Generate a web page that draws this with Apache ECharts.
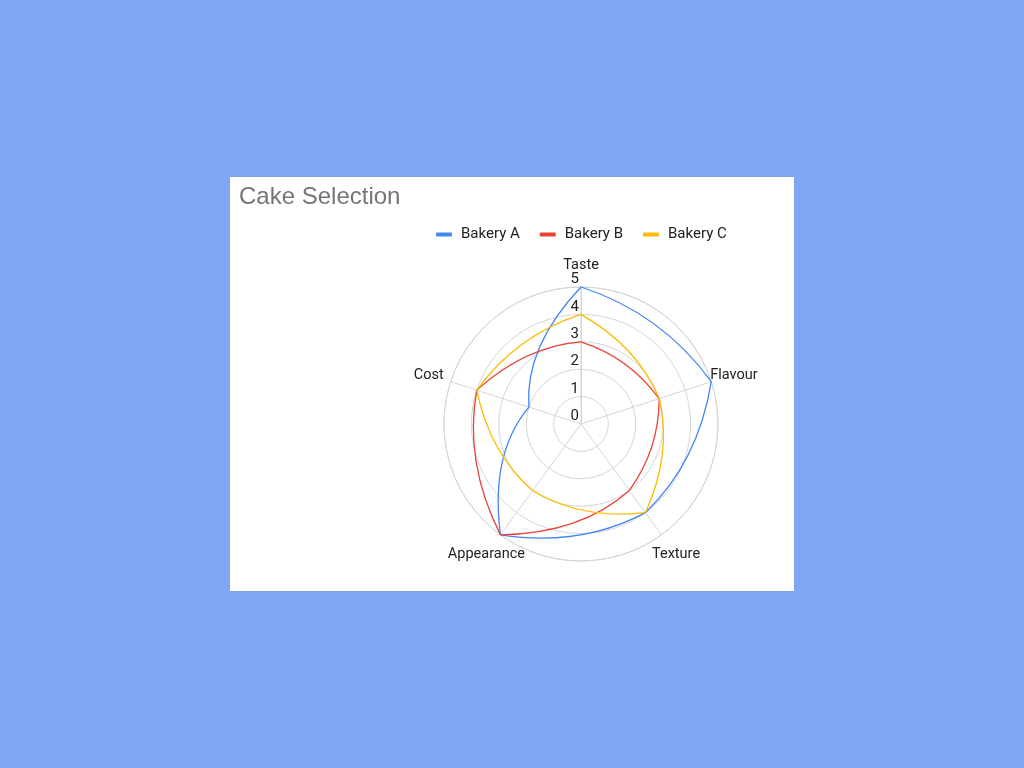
<!DOCTYPE html>
<html>
<head>
<meta charset="utf-8">
<script src="https://cdn.jsdelivr.net/npm/echarts@6/dist/echarts.min.js"></script>
<style>
html,body{margin:0;padding:0;width:1024px;height:768px;background:#7ea6f5;overflow:hidden}
#chart{position:absolute;left:230px;top:177px;width:564px;height:414px;background:#fff}
</style>
</head>
<body>
<div id="chart"></div>
<script>
var categories = ['Taste', 'Flavour', 'Texture', 'Appearance', 'Cost'];
var bakeryA = [5, 5, 4, 5, 2];
var bakeryB = [3, 3, 3, 5, 4];
var bakeryC = [4, 3, 4, 3, 4];
var seriesNames = ['Bakery A', 'Bakery B', 'Bakery C'];
var seriesValues = [bakeryA, bakeryB, bakeryC];
var seriesColors = ['#4285f4', '#ea4335', '#fbbc04'];

// one curve per pair of neighbour categories: quadratic bezier whose control
// point sits on the middle angle at the mean radius
function makeRender(values) {
    return function (params, api) {
        var i = params.dataIndex;
        var r0 = values[i], r1 = values[(i + 1) % values.length];
        var p0 = api.coord([r0, i]);
        var p1 = api.coord([r1, i + 1]);
        var c = api.coord([(r0 + r1) / 2, i + 0.5]);
        return {
            type: 'bezierCurve',
            shape: {x1: p0[0], y1: p0[1], x2: p1[0], y2: p1[1], cpx1: c[0], cpy1: c[1]},
            style: {stroke: api.visual('color'), fill: 'none', lineWidth: 1.3}
        };
    };
}

var series = [];
for (var s = 0; s < seriesNames.length; s++) {
    series.push({
        name: seriesNames[s],
        type: 'custom',
        coordinateSystem: 'polar',
        itemStyle: {color: seriesColors[s]},
        encode: {radius: 0, angle: 1},
        data: seriesValues[s].map(function (v, i) { return [v, i]; }),
        renderItem: makeRender(seriesValues[s]),
        silent: true
    });
}

// label nudges (angle axis ignores align, so shift with padding)
var lab = {color: '#222', fontSize: 14.5, fontFamily: 'Roboto'};
var richLabels = {
    c0: Object.assign({padding: [0, 0, 14, 0]}, lab),
    c1: Object.assign({padding: [0, 0, -1, -1]}, lab),
    c2: Object.assign({padding: [12, 0, 0, -9.5]}, lab),
    c3: Object.assign({padding: [12, -24.5, 0, 0]}, lab),
    c4: Object.assign({padding: [0, 7, -1, 0]}, lab)
};

var gridColor = '#d6d6d6';
var myChart = echarts.init(document.getElementById('chart'));
myChart.setOption({
    backgroundColor: '#fff',
    animation: false,
    title: {
        text: 'Cake Selection',
        left: 4,
        top: 3,
        textStyle: {color: '#757575', fontSize: 24, fontWeight: 'normal', fontFamily: 'Liberation Sans'}
    },
    legend: {
        data: seriesNames,
        left: 201,
        top: 45,
        icon: 'roundRect',
        itemWidth: 16,
        itemHeight: 4,
        itemGap: 20,
        textStyle: {fontSize: 15, color: '#222', fontFamily: 'Roboto', padding: [0, 0, 0, 4]}
    },
    polar: {center: [351, 247], radius: 137},
    angleAxis: {
        type: 'value',
        min: 0,
        max: 5,
        interval: 1,
        startAngle: 90,
        clockwise: true,
        axisLine: {lineStyle: {color: gridColor}},
        axisTick: {show: false},
        splitLine: {show: true, lineStyle: {color: gridColor}},
        axisLabel: {
            formatter: function (v) {
                return categories[v] ? '{c' + v + '|' + categories[v] + '}' : '';
            },
            color: '#222',
            fontSize: 14.5,
            fontFamily: 'Roboto',
            margin: 0,
            rich: richLabels
        }
    },
    radiusAxis: {
        type: 'value',
        min: 0,
        max: 5,
        interval: 1,
        axisLine: {show: true, lineStyle: {color: gridColor}},
        axisTick: {show: false},
        splitLine: {show: true, lineStyle: {color: gridColor}},
        axisLabel: {color: '#222', fontSize: 15, fontFamily: 'Roboto', align: 'right', verticalAlign: 'bottom', margin: 2}
    },
    series: series
});
</script>
</body>
</html>
